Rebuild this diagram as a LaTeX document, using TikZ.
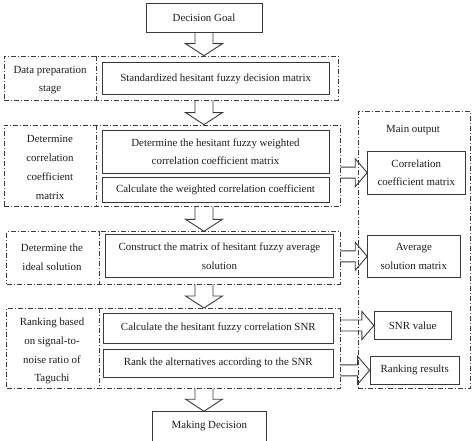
\documentclass[tikz,border=0pt]{standalone}
\usepackage{fontspec}
\setmainfont{Liberation Serif}
\usepackage{xcolor}
\usepackage{tikz}
\usetikzlibrary{calc}
\definecolor{linegray}{HTML}{3A3A3A}
\definecolor{textgray}{HTML}{1C1C1C}
% hollow block arrows between named nodes
\newcommand{\downblock}[2]{%
  \draw[blockarrow] let \p1=(goal.south), \p2=(#1.south), \p3=(#2.north) in
    (\x1-9pt,\y2) -- (\x1-9pt,\y3+12pt) -- (\x1-18.5pt,\y3+12pt) -- (\x1,\y3)
    -- (\x1+18.5pt,\y3+12pt) -- (\x1+9pt,\y3+12pt) -- (\x1+9pt,\y2);}
\newcommand{\rightblock}[2]{%
  \draw[blockarrow] let \p1=(#1.east), \p2=(#2.west) in
    (\x1,\y2+5.5pt) -- (\x2-12pt,\y2+5.5pt) -- (\x2-12pt,\y2+14pt) -- (\x2,\y2)
    -- (\x2-12pt,\y2-14pt) -- (\x2-12pt,\y2-5.5pt) -- (\x1,\y2-5.5pt);}

\begin{document}
\begin{tikzpicture}[x=1pt,y=-1pt,
    every node/.style={font=\fontsize{10.9}{18.8}\selectfont,text=textgray,align=center,inner sep=0pt},
    stepbox/.style={draw=linegray,line width=0.9pt},
    stagebox/.style={draw=linegray,line width=0.7pt,dash pattern=on 5pt off 2pt on 1pt off 2pt},
    blockarrow/.style={draw=linegray,line width=0.9pt,line join=miter}]
    \useasboundingbox (0,0) rectangle (474,441);

    % Stage frames (dash-dot)
    \node[stagebox,minimum width=334,minimum height=44] (data) at (171,78) {};
    \node[stagebox,minimum width=336,minimum height=81.7] (corr) at (172,165.8) {};
    \node[stagebox,minimum width=333.3,minimum height=52.3] (ideal) at (173.3,257.8) {};
    \node[stagebox,minimum width=333.3,minimum height=80] (rank) at (173.3,348.3) {};
    \node[stagebox,minimum width=112.4,minimum height=276.6] (output) at (414.5,250) {};
    \draw[stagebox] (96.7,0 |- data.north) -- (96.7,0 |- data.south);
    \draw[stagebox] (96.7,0 |- corr.north) -- (96.7,0 |- corr.south);
    \draw[stagebox] (99.3,0 |- ideal.north) -- (99.3,0 |- ideal.south);
    \draw[stagebox] (99.3,0 |- rank.north) -- (99.3,0 |- rank.south);

    % Stage labels
    \node (datalab) at (50,80) {Data preparation\\stage};
    \node (corrlab) at (50,167.5) {Determine\\correlation\\coefficient\\matrix};
    \node (ideallab) at (52,257.5) {Determine the\\ideal solution};
    \node (ranklab) at (52,351) {Ranking based\\on signal-to-\\noise ratio of\\Taguchi};
    \node (mainlab) at (413,130) {Main output};

    % Main column
    \node[stepbox,minimum width=116,minimum height=29] (goal) at (204,17.5) {Decision Goal};
    \node[stepbox,minimum width=226.7,minimum height=32.3] (std) at (215.7,78.8) {Standardized hesitant fuzzy decision matrix};
    \node[stepbox,minimum width=227,minimum height=43.3] (weighted) at (215.5,151.7) {Determine the hesitant fuzzy weighted\\correlation coefficient matrix};
    \node[stepbox,minimum width=227,minimum height=24.6] (calcw) at (215.5,190) {Calculate the weighted correlation coefficient};
    \node[stepbox,minimum width=227.6,minimum height=43.4] (avg) at (219.5,256) {Construct the matrix of hesitant fuzzy average\\solution};
    \node[stepbox,minimum width=230,minimum height=30] (snr) at (218.3,328.3) {Calculate the hesitant fuzzy correlation SNR};
    \node[stepbox,minimum width=230,minimum height=28] (rankalt) at (218.3,363.3) {Rank the alternatives according to the SNR};
    \node[stepbox,minimum width=113.3,minimum height=29.3] (making) at (209.3,426.3) {Making Decision};

    % Outputs
    \node[stepbox,minimum width=97.3,minimum height=43.3] (corrout) at (416.3,172.7) {Correlation\\coefficient matrix};
    \node[stepbox,minimum width=92.3,minimum height=42.7] (avgout) at (413.8,256.3) {Average\\solution matrix};
    \node[stepbox,minimum width=76.7,minimum height=27.6] (snrout) at (412.7,325.5) {SNR value};
    \node[stepbox,minimum width=89.3,minimum height=27.3] (rankout) at (414.7,370.3) {Ranking results};

    % Block arrows
    \downblock{goal}{data}
    \downblock{data}{corr}
    \downblock{corr}{ideal}
    \downblock{ideal}{rank}
    \downblock{rank}{making}
    \rightblock{corr}{corrout}
    \rightblock{ideal}{avgout}
    \rightblock{rank}{snrout}
    \rightblock{rank}{rankout}
\end{tikzpicture}
\end{document}
